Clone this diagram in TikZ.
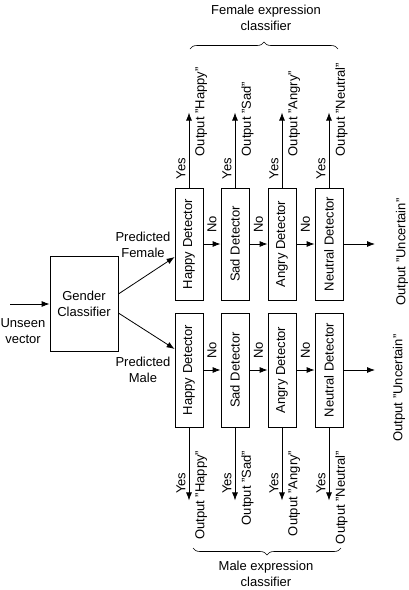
\documentclass[tikz,border=0pt]{standalone}
\usepackage{fontspec}
\setmainfont{Liberation Sans}
\usetikzlibrary{arrows.meta, positioning, decorations.pathreplacing}

\begin{document}
\begin{tikzpicture}[x=1pt, y=-1pt, font=\fontsize{13}{16}\selectfont,
    line width=0.8pt, >={Latex[length=8pt,width=6pt]},
    det/.style={draw, minimum width=28pt, minimum height=112pt, inner sep=0pt},
    yes/.style={rotate=90, inner xsep=0pt, inner ysep=3pt},
    outp/.style={rotate=90, inner xsep=0pt, inner ysep=6pt},
    nolbl/.style={rotate=90, anchor=west, inner xsep=11pt, inner ysep=0pt},
    brc/.style={decorate, decoration={brace, amplitude=7pt}, line width=0.6pt}]
    \useasboundingbox (0,0) rectangle (409,590);
    % gender classifier
    \node[draw, minimum width=68pt, minimum height=95pt, align=center] (gc) at (84,304) {Gender\\Classifier};
    \node[align=center] (unseen) at (23,331) {Unseen\\vector};
    \coordinate (in) at (10,304);
    \draw[->] (in) -- (gc);
    %
    % detector rows
    \foreach \n/\t/\x in {h/Happy/189, s/Sad/235, a/Angry/282, n/Neutral/329} {
        \node[det] (f\n) at (\x,244) {\rotatebox{90}{\t{} Detector}};
        \node[det, minimum height=114pt] (m\n) at (\x,370) {\rotatebox{90}{\t{} Detector}};
        \draw[->] (f\n.north) -- ++(0,-75) coordinate (fo\n)
            node[pos=0.107, yes, anchor=south west] {Yes}
            node[pos=0.413, outp, anchor=north west] {Output "\t"};
        \draw[->] (m\n.south) -- ++(0,73) coordinate (mo\n)
            node[pos=0.616, yes, anchor=south east] {Yes}
            node[pos=0.315, outp, anchor=north east] {Output "\t"};
    }
    %
    \draw[->] (fh) -- (fs) node[midway, nolbl] {No};
    \draw[->] (fs) -- (fa) node[midway, nolbl] {No};
    \draw[->] (fa) -- (fn) node[midway, nolbl] {No};
    \draw[->] (mh) -- (ms) node[midway, nolbl] {No};
    \draw[->] (ms) -- (ma) node[midway, nolbl] {No};
    \draw[->] (ma) -- (mn) node[midway, nolbl] {No};
    %
    \draw[->] (fn) -- ++(46,0) coordinate (fu);
    \draw[->] (mn) -- ++(46,0) coordinate (mu);
    \node[rotate=90, inner sep=0pt] (fuo) at (402,252) {Output "Uncertain"};
    \node[rotate=90, inner sep=0pt] (muo) at (399,388) {Output "Uncertain"};
    %
    % gender split
    \draw[->] ([yshift=10pt]gc.east) -- ([yshift=-13pt]fh.west);
    \draw[->] ([yshift=-9pt]gc.east) -- ([yshift=21pt]mh.west);
    \node[align=center] (pf) at (143,245) {Predicted\\Female};
    \node[align=center] (pm) at (143,370) {Predicted\\Male};
    %
    % braces
    \draw[brc] (190,49) -- (338,49);
    \draw[brc] (341,548) -- (193,548);
    \node[align=center] (fec) at (266,18) {Female expression\\classifier};
    \node[align=center] (mec) at (266,574) {Male expression\\classifier};
\end{tikzpicture}
\end{document}
